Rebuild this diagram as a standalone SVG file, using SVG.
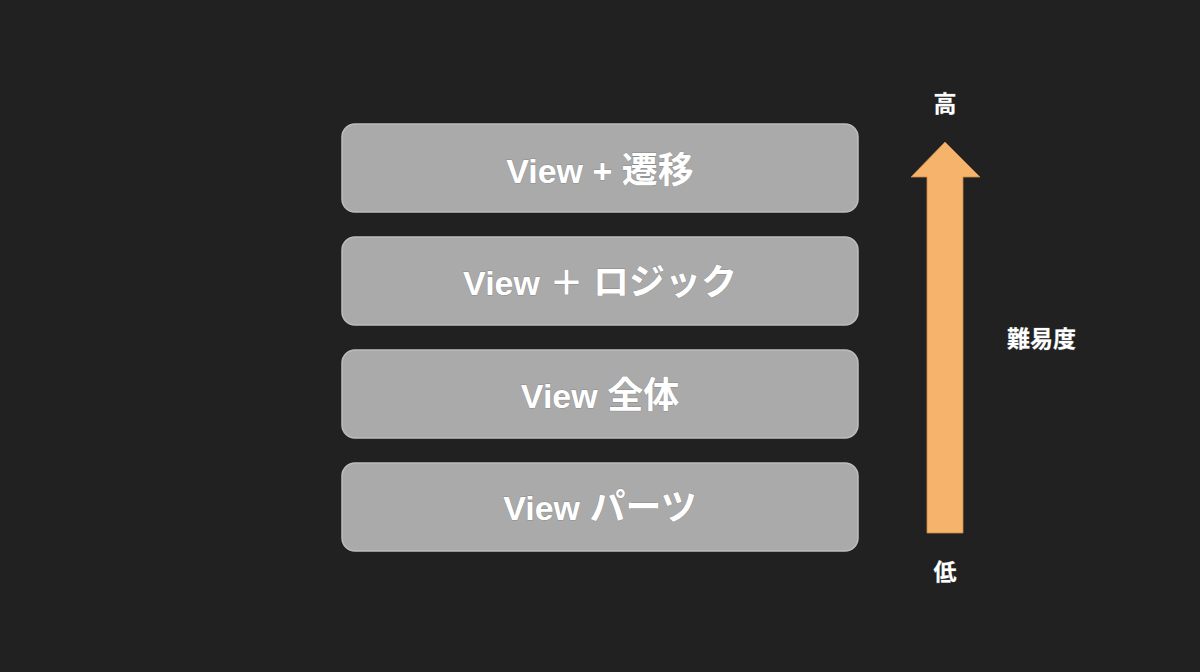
<svg xmlns="http://www.w3.org/2000/svg" width="1200" height="672" viewBox="0 0 1200 672">
<style>
.box{fill:#aaaaaa;stroke:#bdbdbd;stroke-width:1.5}
.lbl{font-family:"Liberation Sans","Noto Sans CJK JP",sans-serif;font-size:34px;font-weight:bold;fill:#ffffff;stroke:#8a8a8a;stroke-width:0.8;paint-order:stroke;text-anchor:middle}
.cjk{font-size:36px}
.side{font-family:"Liberation Sans","Noto Sans CJK JP",sans-serif;font-size:23px;font-weight:bold;fill:#ffffff;stroke:#777;stroke-width:0.6;paint-order:stroke}
</style>
<rect x="0" y="0" width="1200" height="672" fill="#212121"/>
<g id="node-transition">
<rect class="box" x="342" y="124" width="516" height="88" rx="13"/>
<text class="lbl" x="600" y="183">View + <tspan class="cjk">遷移</tspan></text>
</g>
<g id="node-logic">
<rect class="box" x="342" y="237" width="516" height="88" rx="13"/>
<text class="lbl" x="600" y="295">View ＋ <tspan class="cjk">ロジック</tspan></text>
</g>
<g id="node-whole">
<rect class="box" x="342" y="350" width="516" height="88" rx="13"/>
<text class="lbl" x="600" y="408">View <tspan class="cjk">全体</tspan></text>
</g>
<g id="node-parts">
<rect class="box" x="342" y="463" width="516" height="88" rx="13"/>
<text class="lbl" x="600" y="520">View <tspan class="cjk">パーツ</tspan></text>
</g>
<g id="connectors">
<polygon points="945,142 980,177 963,177 963,533 927,533 927,177 911,177" fill="#f5b36c" stroke="#c8894a" stroke-width="0.8"/>
</g>
<g id="labels">
<text class="side" x="945" y="112" text-anchor="middle">高</text>
<text class="side" x="945" y="580" text-anchor="middle">低</text>
<text class="side" x="1007" y="347">難易度</text>
</g>
</svg>
